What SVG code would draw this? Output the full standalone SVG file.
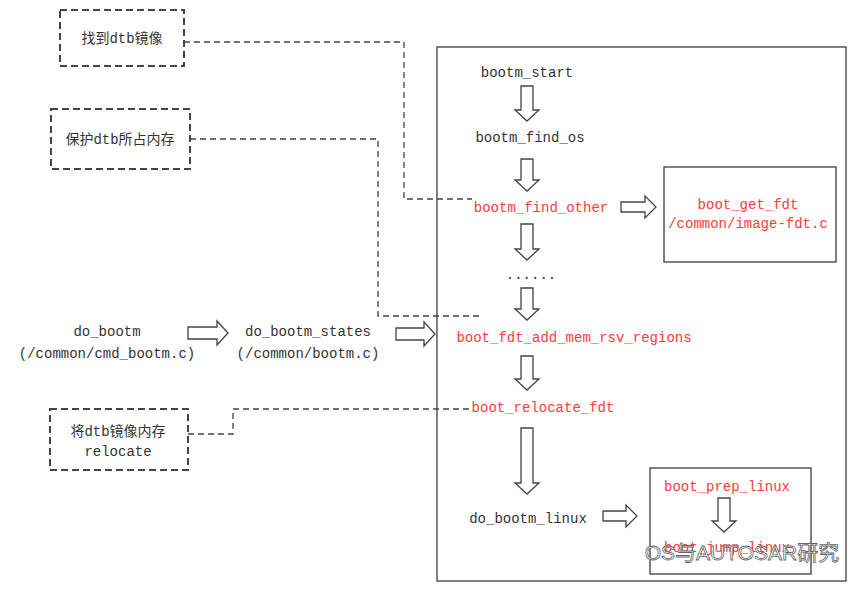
<svg xmlns="http://www.w3.org/2000/svg" width="863" height="591" viewBox="0 0 863 591">
<style>
text{font-family:"Liberation Mono","Noto Sans CJK SC",monospace;font-size:14px;fill:#333;text-anchor:middle}
.r{fill:#ff3b3b}
.box{fill:none;stroke:#555;stroke-width:1.5}
.db{fill:none;stroke:#444;stroke-width:2;stroke-dasharray:7,4}
.dl{fill:none;stroke:#444;stroke-width:1.3;stroke-dasharray:6,4}
.ar{fill:#fff;stroke:#444;stroke-width:1.3}
.wm{font-family:"Liberation Sans","Noto Sans CJK SC",sans-serif;font-size:21px;fill:#fff;stroke:#666;stroke-width:0.8}
</style>
<rect width="863" height="591" fill="#fff"/>
<g id="main"><rect class="box" x="437" y="47" width="409" height="534"/></g>
<g id="fdtbox"><rect class="box" x="664" y="167" width="172" height="95"/><text class="r" x="748" y="209">boot_get_fdt</text><text class="r" x="748" y="228">/common/image-fdt.c</text></g>
<g id="linuxbox"><rect class="box" x="650" y="468" width="161" height="106"/><text class="r" x="727" y="491">boot_prep_linux</text><text class="r" x="727" y="552">boot_jump_linux</text></g>
<g id="n1"><rect class="db" x="60" y="10" width="124" height="56"/><text x="122" y="43">找到dtb镜像</text></g>
<g id="n2"><rect class="db" x="51" y="109" width="139" height="60"/><text x="120" y="144">保护dtb所占内存</text></g>
<g id="n3"><rect class="db" x="50" y="409" width="138" height="61"/><text x="118" y="436">将dtb镜像内存</text><text x="118" y="456">relocate</text></g>
<g id="texts">
<text x="527" y="77">bootm_start</text>
<text x="530" y="142">bootm_find_os</text>
<text class="r" x="541" y="212">bootm_find_other</text>
<text x="531" y="279">......</text>
<text class="r" x="574" y="342">boot_fdt_add_mem_rsv_regions</text>
<text class="r" x="543" y="412">boot_relocate_fdt</text>
<text x="528" y="523">do_bootm_linux</text>
<text x="107" y="336">do_bootm</text>
<text x="107" y="358">(/common/cmd_bootm.c)</text>
<text x="308" y="336">do_bootm_states</text>
<text x="308" y="358">(/common/bootm.c)</text>
</g>
<g id="connectors">
<path class="dl" d="M184 42H404V199H472"/>
<path class="dl" d="M190 139H378V316H483"/>
<path class="dl" d="M188 434H233V409H470"/>
<path class="ar" d="M521 86h12v24h6l-12 11l-12-11h6z"/>
<path class="ar" d="M521 159h12v21h6l-12 11l-12-11h6z"/>
<path class="ar" d="M521 224h12v25h6l-12 11l-12-11h6z"/>
<path class="ar" d="M521 288h12v21h6l-12 11l-12-11h6z"/>
<path class="ar" d="M521 356h12v23h6l-12 11l-12-11h6z"/>
<path class="ar" d="M521 428h12v55h6l-12 11l-12-11h6z"/>
<path class="ar" d="M718 498h12v23h6l-12 11l-12-11h6z"/>
<path class="ar" d="M621 202h24v-6l11 11l-11 11v-6h-24z"/>
<path class="ar" d="M188 327h29v-6l11 12l-11 12v-6h-29z"/>
<path class="ar" d="M396 328h28v-6l11 12l-11 12v-6h-28z"/>
<path class="ar" d="M603 511h23v-6l11 11l-11 11v-6h-23z"/>
</g>
<text class="wm" x="742" y="560">OS与AUTOSAR研究</text>
</svg>
